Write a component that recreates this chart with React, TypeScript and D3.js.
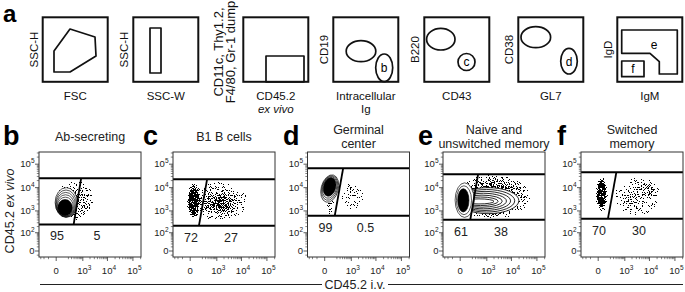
import React from "react";
import * as d3 from "d3";

const W = 685, H = 292;
const FONT = "'Liberation Sans', Arial, Helvetica, sans-serif";

// ---------- panel a : gating strategy ----------
const gateXLabels = [["FSC"], ["SSC-W"], ["CD45.2", "ex vivo"], ["Intracellular", "Ig"], ["CD43"], ["GL7"], ["IgM"]];
const gateYLabels = [["SSC-H"], ["SSC-H"], ["CD11c, Thy1.2,", "F4/80, Gr-1 dump"], ["CD19"], ["B220"], ["CD38"], ["IgD"]];
const italicLines = ["ex vivo"];

// ---------- panels b-f ----------
const panelLetters = ["b", "c", "d", "e", "f"];
const panelTitles = [["Ab-secreting"], ["B1 B cells"], ["Germinal", "center"], ["Naive and", "unswitched memory"], ["Switched", "memory"]];
const leftPct = ["95", "72", "99", "61", "70"];
const rightPct = ["5", "27", "0.5", "38", "30"];
const gateUpper = [25000, 22600, 67000, 37000, 45000];
const gateLower = [250, 220, 620, 410, 455];
const slantLow = [382, 120, 148, 148, 141];
const slantHigh = [844, 357, 427, 400, 413];

const yMajor = [0, 100, 1000, 10000, 100000];
const yMajorExp = ["", "2", "3", "4", "5"];
const xMajor = [0, 1000, 10000, 100000];
const xMajorExp = ["", "3", "4", "5"];
const decadeSteps = [2, 3, 4, 5, 6, 7, 8, 9];
const yMinor = [-10, 10, 20, 30, 40, 50, 60, 70, 80, 90, ...[100, 1000, 10000].flatMap((d) => decadeSteps.map((m) => m * d)), 200000, 300000];
const xMinor = [-300, -200, -100, ...[100, 1000, 10000].flatMap((d) => decadeSteps.map((m) => m * d)), 200000];

// dot clouds per panel: [x0, x1, y0, y1, peak density, flat core fraction, rotation]
const dotsB = [
  [-20, 3700, 370, 20500, 0.5, 0, 0],
  [-10, 900, 450, 11000, 0.8, 0.3, 0],
];
const dotsC = [
  [-58, 23000, 300, 22000, 0.22, 0, 0],
  [58, 17800, 430, 13000, 0.55, 0, 0],
  [148, 5900, 690, 5000, 0.5, 0, 0],
  [-35, 160, 400, 17000, 1, 0.6, 0],
  [-22, 115, 650, 9500, 1, 0.85, 0],
];
const dotsD = [
  [20, 140, 600, 6000, 0.45, 0, 0],
  [290, 3700, 870, 22000, 0.18, 0, 0],
  [-37, 240, 2300, 36000, 0.9, 0.3, 15],
];
const dotsE = [
  [-58, 57000, 420, 36000, 0.75, 0.3, 0],
  [-31, 19600, 700, 11000, 0.95, 0.4, 0],
];
const dotsF = [
  [-25, 135, 900, 30000, 1, 0.55, 0],
  [-12, 100, 1500, 18000, 1, 0.85, 0],
  [257, 27800, 520, 31000, 0.3, 0, 0],
  [2800, 27800, 3100, 22000, 0.3, 0, 0],
];
const panelDots = [dotsB, dotsC, dotsD, dotsE, dotsF];

// contour sets per panel: [inner x0, x1, y0, y1, outer x0, x1, y0, y1, rings, rotation, solid inner]
const contB = [[15, 330, 600, 3100, -10, 574, 520, 10000, 6, 0, 1]];
const contC: number[][] = [];
const contD = [[-15, 160, 4200, 27000, -37, 240, 2300, 36000, 4, 15, 1]];
const contE = [
  [40, 2000, 2000, 3300, -31, 19600, 760, 10000, 7, 0, 0],
  [-25, 120, 900, 9000, -58, 250, 520, 16000, 3, 0, 1],
];
const contF: number[][] = [];
const panelContours = [contB, contC, contD, contE, contF];

// ---------- layout ----------
const A_LEFTS = [42.7, 133.3, 243.3, 333.3, 424.3, 518.3, 617.3];
const A_TOP = 17.3, A_W = 65, A_H = 64.5;
type Shape =
  | { t: "poly"; pts: [number, number][]; label?: string; lx?: number; ly?: number }
  | { t: "rect"; x: number; y: number; w: number; h: number; label?: string }
  | { t: "ell"; cx: number; cy: number; rx: number; ry: number; label?: string };
const A_GATES: Shape[][] = [
  [{ t: "poly", pts: [[27.3, 11.7], [52.3, 19.7], [53.3, 38.7], [27.3, 54.7], [11.3, 54.7], [11.3, 33.7]] }],
  [{ t: "rect", x: 16.7, y: 10.7, w: 11, h: 45 }],
  [{ t: "rect", x: 22.7, y: 38.7, w: 38, h: 25.8 }],
  [{ t: "ell", cx: 27.7, cy: 33.9, rx: 14.8, ry: 10.5 }, { t: "ell", cx: 50.9, cy: 50.5, rx: 8.5, ry: 13.8, label: "b" }],
  [{ t: "ell", cx: 16.5, cy: 21.9, rx: 14.2, ry: 10.8 }, { t: "ell", cx: 42.2, cy: 44.7, rx: 8.5, ry: 8.5, label: "c" }],
  [{ t: "ell", cx: 17.5, cy: 19.9, rx: 14.8, ry: 10.5 }, { t: "ell", cx: 50.7, cy: 43.9, rx: 8.3, ry: 12.8, label: "d" }],
  [
    { t: "poly", pts: [[4.4, 12.7], [60, 12.7], [60, 56.7], [42, 56.7], [42, 44.4], [32.7, 36], [4.4, 36]], label: "e", lx: 36.7, ly: 27.7 },
    { t: "rect", x: 4.4, y: 43.7, w: 22.3, h: 15.7, label: "f" },
  ],
];

const PL = [39, 173, 307.5, 443, 581];
const PW = 102, PT = 152, PB = 257;
const LETTER_X = [3, 143, 283, 418, 557];

const yScale = d3.scaleSymlog().constant(20).domain([-16, 330000]).range([PB, PT]);
const xScaleFor = (i: number) => d3.scaleSymlog().constant(100).domain([-370, 207000]).range([PL[i], PL[i] + PW]);

function ellFromBounds(x: any, b: number[]) {
  const xa = x(b[0]), xb = x(b[1]), ya = yScale(b[2]), yb = yScale(b[3]);
  return { cx: (xa + xb) / 2, cy: (ya + yb) / 2, rx: Math.abs(xb - xa) / 2, ry: Math.abs(ya - yb) / 2 };
}

function PanelA() {
  return (
    <g>
      <text x={3} y={21.5} fontSize={24} fontWeight="bold" fontFamily={FONT}>a</text>
      {A_LEFTS.map((lx, i) => {
        const cx = lx + A_W / 2;
        const cy = A_TOP + A_H / 2;
        const ylines = gateYLabels[i];
        return (
          <g key={i}>
            <rect x={lx} y={A_TOP} width={A_W} height={A_H} fill="none" stroke="#111" strokeWidth={2} />
            <g transform={`translate(${lx},${A_TOP})`}>
              {A_GATES[i].map((s, k) => {
                const common = { fill: "none", stroke: "#111", strokeWidth: 1.7, strokeLinejoin: "round" as const };
                if (s.t === "poly")
                  return (
                    <g key={k}>
                      <polygon points={s.pts.map((p) => p.join(",")).join(" ")} {...common} />
                      {s.label && <text x={s.lx} y={(s.ly || 0) + 4} fontSize={12} textAnchor="middle" fontFamily={FONT}>{s.label}</text>}
                    </g>
                  );
                if (s.t === "rect")
                  return (
                    <g key={k}>
                      <rect x={s.x} y={s.y} width={s.w} height={s.h} {...common} />
                      {s.label && <text x={s.x + s.w / 2} y={s.y + s.h / 2 + 4.5} fontSize={12} textAnchor="middle" fontFamily={FONT}>{s.label}</text>}
                    </g>
                  );
                return (
                  <g key={k}>
                    <ellipse cx={s.cx} cy={s.cy} rx={s.rx} ry={s.ry} {...common} />
                    {s.label && <text x={s.cx} y={s.cy + 4.5} fontSize={12} textAnchor="middle" fontFamily={FONT}>{s.label}</text>}
                  </g>
                );
              })}
            </g>
            {gateXLabels[i].map((t, k) => (
              <text key={k} x={cx} y={100 + k * 13} fontSize={11.5} textAnchor="middle" fontFamily={FONT}
                fontStyle={italicLines.includes(t) ? "italic" : "normal"} fill="#111">{t}</text>
            ))}
            {ylines.map((t, k) => {
              const bx = ylines.length === 1 ? lx - 5 : lx - 20.5 + k * 12.5;
              return (
                <text key={k} transform={`translate(${bx},${ylines.length === 1 ? cy : 52}) rotate(-90)`} fontSize={ylines.length === 1 ? 11.5 : 13}
                  textAnchor="middle" fontFamily={FONT} fill="#111">{t}</text>
              );
            })}
          </g>
        );
      })}
    </g>
  );
}

function FlowPanel({ i }: { i: number }) {
  const x = xScaleFor(i);
  const left = PL[i];
  const mid = left + PW / 2;
  const yU = yScale(gateUpper[i]);
  const yL = yScale(gateLower[i]);
  const title = panelTitles[i];
  return (
    <g>
      <defs>
        <clipPath id={`clip${i}`}>
          <rect x={left} y={PT} width={PW} height={PB - PT} />
        </clipPath>
        {panelDots[i].map((d, k) => {
          const peak = d[4], flat = d[5];
          return (
            <radialGradient key={k} id={`g${i}_${k}`}>
              <stop offset={0} stopColor="#000" stopOpacity={peak} />
              <stop offset={flat} stopColor="#000" stopOpacity={peak} />
              <stop offset={flat + (1 - flat) * 0.5} stopColor="#000" stopOpacity={peak * 0.5} />
              <stop offset={1} stopColor="#000" stopOpacity={0} />
            </radialGradient>
          );
        })}
      </defs>
      <text x={LETTER_X[i]} y={145} fontSize={27} fontWeight="bold" fontFamily={FONT}>{panelLetters[i]}</text>
      {title.map((t, k) => (
        <text key={k} x={mid} y={title.length === 1 ? 141 : 134 + k * 14} fontSize={12.5} textAnchor="middle" fontFamily={FONT} fill="#222">{t}</text>
      ))}
      <rect x={left} y={PT} width={PW} height={PB - PT} fill="#fff" />
      <g clipPath={`url(#clip${i})`}>
        <g filter="url(#stipple)">
          {panelDots[i].map((d, k) => {
            const e = ellFromBounds(x, d);
            return (
              <ellipse key={k} cx={e.cx} cy={e.cy} rx={e.rx} ry={e.ry} fill={`url(#g${i}_${k})`}
                transform={d[6] ? `rotate(${d[6]},${e.cx},${e.cy})` : undefined} />
            );
          })}
        </g>
        {panelContours[i].map((c, k) => {
          const inner = ellFromBounds(x, c.slice(0, 4));
          const outer = ellFromBounds(x, c.slice(4, 8));
          const n = c[8];
          const rot = c[9];
          const solid = c[10];
          const rings = d3.range(n).map((j) => {
            const t = n === 1 ? 1 : j / (n - 1);
            return {
              cx: inner.cx + (outer.cx - inner.cx) * t,
              cy: inner.cy + (outer.cy - inner.cy) * t,
              rx: inner.rx + (outer.rx - inner.rx) * t,
              ry: inner.ry + (outer.ry - inner.ry) * t,
            };
          });
          const tr = rot ? `rotate(${rot},${outer.cx},${outer.cy})` : undefined;
          return (
            <g key={k} transform={tr}>
              <ellipse cx={outer.cx} cy={outer.cy} rx={outer.rx} ry={outer.ry} fill="#fff" />
              {rings.map((r, j) => (
                <ellipse key={j} cx={r.cx} cy={r.cy} rx={r.rx} ry={r.ry} fill="none" stroke="#111" strokeWidth={solid ? 0.7 : 0.9} />
              ))}
              {solid ? <ellipse cx={inner.cx} cy={inner.cy} rx={inner.rx} ry={inner.ry} fill="#000" /> : null}
            </g>
          );
        })}
        <line x1={left} x2={left + PW} y1={yU} y2={yU} stroke="#000" strokeWidth={2} />
        <line x1={left} x2={left + PW} y1={yL} y2={yL} stroke="#000" strokeWidth={2} />
        <line x1={x(slantLow[i])} x2={x(slantHigh[i])} y1={yL} y2={yU} stroke="#000" strokeWidth={1.8} />
      </g>
      <rect x={left} y={PT} width={PW} height={PB - PT} fill="none" stroke="#333" strokeWidth={1} />
      <text x={left + 18} y={yL + 16} fontSize={12.5} textAnchor="middle" fontFamily={FONT} fill="#222">{leftPct[i]}</text>
      <text x={left + 58} y={yL + 16} fontSize={12.5} textAnchor="middle" fontFamily={FONT} fill="#222">{rightPct[i]}</text>
      {yMajor.map((v, k) => (
        <g key={"ym" + k}>
          <line x1={left - 4} x2={left} y1={yScale(v)} y2={yScale(v)} stroke="#333" strokeWidth={0.8} />
          <text x={left - 4.5} y={yScale(v) + 3.2} fontSize={9.5} textAnchor="end" fontFamily={FONT} fill="#222">
            {yMajorExp[k] ? "10" : "0"}
            {yMajorExp[k] && <tspan dy={-4} fontSize={6.5}>{yMajorExp[k]}</tspan>}
          </text>
        </g>
      ))}
      {yMinor.map((v, k) => (
        <line key={"yn" + k} x1={left - 2.2} x2={left} y1={yScale(v)} y2={yScale(v)} stroke="#333" strokeWidth={0.6} />
      ))}
      {xMajor.map((v, k) => (
        <g key={"xm" + k}>
          <line x1={x(v)} x2={x(v)} y1={PB} y2={PB + 4} stroke="#333" strokeWidth={0.8} />
          <text x={x(v) + (xMajorExp[k] ? 1.5 : 0)} y={273.5} fontSize={9.5} textAnchor="middle" fontFamily={FONT} fill="#222">
            {xMajorExp[k] ? "10" : "0"}
            {xMajorExp[k] && <tspan dy={-4} fontSize={6.5}>{xMajorExp[k]}</tspan>}
          </text>
        </g>
      ))}
      {xMinor.map((v, k) => (
        <line key={"xn" + k} x1={x(v)} x2={x(v)} y1={PB} y2={PB + 2.2} stroke="#333" strokeWidth={0.6} />
      ))}
    </g>
  );
}

export default function App() {
  return (
    <svg width={W} height={H} viewBox={`0 0 ${W} ${H}`} style={{ display: "block", position: "absolute", left: 0, top: 0, background: "#fff" }}>
      <defs>
        <filter id="stipple" filterUnits="userSpaceOnUse" x="0" y="0" width={W} height={H} colorInterpolationFilters="sRGB">
          <feTurbulence type="fractalNoise" baseFrequency="0.85" numOctaves="2" seed="7" result="noise" />
          <feColorMatrix in="noise" type="matrix" values="0 0 0 0 0  0 0 0 0 0  0 0 0 0 0  1 0 0 0 0" result="nA" />
          <feComponentTransfer in="nA" result="nS">
            <feFuncA type="linear" slope="3.2" intercept="-1.1" />
          </feComponentTransfer>
          <feComposite in="SourceAlpha" in2="nS" operator="arithmetic" k1="0" k2="1" k3="-1" k4="0.47" result="diff" />
          <feComponentTransfer in="diff">
            <feFuncR type="linear" slope="0" intercept="0" />
            <feFuncG type="linear" slope="0" intercept="0" />
            <feFuncB type="linear" slope="0" intercept="0" />
            <feFuncA type="discrete" tableValues="0 1" />
          </feComponentTransfer>
        </filter>
      </defs>
      <rect width={W} height={H} fill="#fff" />
      <PanelA />
      {PL.map((_, i) => (
        <FlowPanel key={i} i={i} />
      ))}
      <text transform={`translate(14,211) rotate(-90)`} fontSize={12.5} textAnchor="middle" fontFamily={FONT} fill="#222">
        CD45.2 <tspan fontStyle="italic">ex vivo</tspan>
      </text>
      <line x1={40} x2={322} y1={284.5} y2={284.5} stroke="#222" strokeWidth={1} />
      <line x1={388} x2={683} y1={284.5} y2={284.5} stroke="#222" strokeWidth={1} />
      <text x={355} y={289} fontSize={12.5} textAnchor="middle" fontFamily={FONT} fill="#222">CD45.2 i.v.</text>
    </svg>
  );
}
